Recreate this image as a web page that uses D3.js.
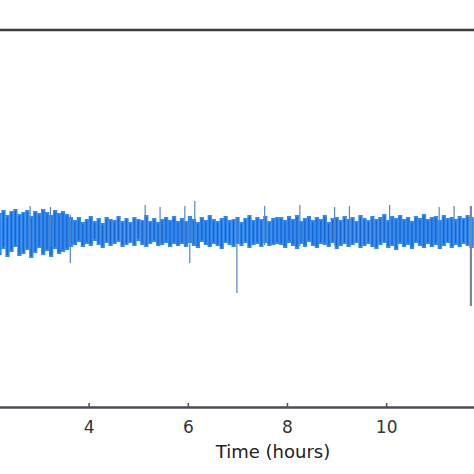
<!DOCTYPE html>
<html>
<head>
<meta charset="utf-8">
<script src="https://cdn.jsdelivr.net/npm/d3@7"></script>
<style>
    html, body { margin: 0; padding: 0; background: #fff; }
    svg { display: block; }
</style>
</head>
<body>
<div id="chart-container"></div>
<script>
// sampled signal, one bin every 0.08 h starting at 2.2 h
const sampleStart = 2.2;
const sampleStep = 0.08;

// upper envelope of each bin
const hiVals = [
    6, 9, 4, 8, 10, 5, 7, 9, 3, 8, 6, 10, 7, 4, 9, 6, 8, 5, 2,
    -1, 2, -3, 0, 3, -2, 1, -4, 2, 0, -1, 3, -2, 1, -3, 2, 0, -1, 4, -2, 1, -3, 0, 2, -1, 3, -2,
    1, -2, 3, 0, -3, 2, -1, 4, 0, -2, 1, 3, -1, 0, 2, -3, 1, 4, -1, 2, 0, 3, -2, 1, 2,
    2, -1, 3, 0, 4, -2, 1, 3, -1, 2, 0, 4, -3, 1, 2, -1, 3, 0, 2, -2, 4, 1, -1, 3, 0,
    2, 5, -1, 3, 1, 4, 0, 2, -2, 3, 1, 5, 0, 2, 3, -1, 4, 1, 2, 0, 3, 1, 4, 2, 0
];

// lower envelope of each bin
const loVals = [
    -36, -30, -38, -33, -28, -37, -35, -31, -39, -34, -29, -36, -32, -38, -30, -35, -33, -31, -28,
    -26, -23, -28, -25, -27, -22, -26, -29, -24, -27, -25, -23, -28, -26, -24, -27, -22, -26, -28, -25, -23, -27, -26, -24, -28, -25, -27,
    -25, -28, -24, -27, -29, -23, -26, -28, -25, -27, -30, -24, -26, -28, -25, -27, -24, -29, -26, -25, -28, -24, -27, -26, -25,
    -26, -29, -24, -27, -30, -25, -28, -23, -27, -29, -25, -26, -28, -24, -30, -27, -25, -28, -26, -24, -29, -27, -25, -28, -30,
    -26, -24, -29, -27, -31, -25, -28, -26, -30, -24, -27, -29, -25, -28, -26, -30, -27, -24, -29, -26, -28, -25, -27, -29, -26
];

// isolated artefacts: time (h), top, bottom
const spikeTimes = [2.82, 3.23, 3.63, 5.14, 5.44, 5.94, 6.04, 6.14, 6.99, 7.55, 8.26, 8.96, 9.26, 10.07, 11.07, 11.37, 11.71];
const spikeTops  = [13, 12, 4, 14, 12, 13, 2, 18, 2, 13, 14, 12, 13, 14, 12, 13, 13];
const spikeBots  = [-30, -28, -44, -25, -26, -27, -44, -26, -74, -26, -27, -26, -28, -27, -28, -27, -87];

const xTicks = [4, 6, 8, 10, 12];

const width = 474;
const height = 474;

const svg = d3.select('#chart-container')
    .append('svg')
    .attr('width', width)
    .attr('height', height)
    .style('font-family', '"DejaVu Sans", sans-serif');

const x = d3.scaleLinear().domain([2, 12]).range([-10.5, 485.3]);
const y = d3.scaleLinear().domain([-188, 189]).range([407, 30]);

const bins = hiVals.map((hi, i) => ({ t: sampleStart + i * sampleStep, hi: hi, lo: loVals[i] }));
const spikes = spikeTimes.map((t, i) => ({ t: t, hi: spikeTops[i], lo: spikeBots[i] }));
const bw = x(sampleStart + sampleStep) - x(sampleStart);

// top frame line
svg.append('line')
    .attr('x1', 0).attr('x2', width)
    .attr('y1', y(189)).attr('y2', y(189))
    .attr('stroke', '#3a3f44')
    .attr('stroke-width', 2.5);

// signal band
svg.selectAll('.bin')
    .data(bins)
    .enter().append('rect')
    .attr('class', 'bin')
    .attr('x', d => x(d.t) - bw / 2)
    .attr('width', bw + 0.3)
    .attr('y', d => y(d.hi))
    .attr('height', d => y(d.lo) - y(d.hi))
    .attr('fill', '#3189ee');

svg.selectAll('.bin-core')
    .data(bins)
    .enter().append('line')
    .attr('class', 'bin-core')
    .attr('x1', d => x(d.t)).attr('x2', d => x(d.t))
    .attr('y1', d => y(d.hi) + 2)
    .attr('y2', d => y(d.lo) - 2)
    .attr('stroke', '#1c62cc')
    .attr('stroke-width', 1.3);

svg.selectAll('.spike')
    .data(spikes)
    .enter().append('line')
    .attr('class', 'spike')
    .attr('x1', d => x(d.t)).attr('x2', d => x(d.t))
    .attr('y1', d => y(d.hi))
    .attr('y2', d => y(d.lo))
    .attr('stroke', (d, i) => i === spikes.length - 1 ? '#6f8aa6' : '#4f86cc')
    .attr('stroke-width', (d, i) => i === spikes.length - 1 ? 2.2 : 1.2);

// bottom axis, ticks pointing inward
const xAxis = svg.append('g')
    .attr('transform', 'translate(0,' + y(-188) + ')')
    .call(d3.axisBottom(x).tickValues(xTicks).tickFormat(d3.format('d')).tickSizeInner(-4).tickSizeOuter(0).tickPadding(14));

xAxis.select('.domain')
    .attr('stroke', '#4a4f55')
    .attr('stroke-width', 2.5);
xAxis.selectAll('.tick line')
    .attr('stroke', '#4a4f55')
    .attr('stroke-width', 1.5);
xAxis.selectAll('.tick text')
    .attr('fill', '#333')
    .style('font-size', '17px')
    .style('font-family', '"DejaVu Sans", sans-serif');

svg.append('text')
    .attr('x', 273)
    .attr('y', 458)
    .attr('text-anchor', 'middle')
    .attr('fill', '#222')
    .style('font-size', '18px')
    .text('Time (hours)');
</script>
</body>
</html>
